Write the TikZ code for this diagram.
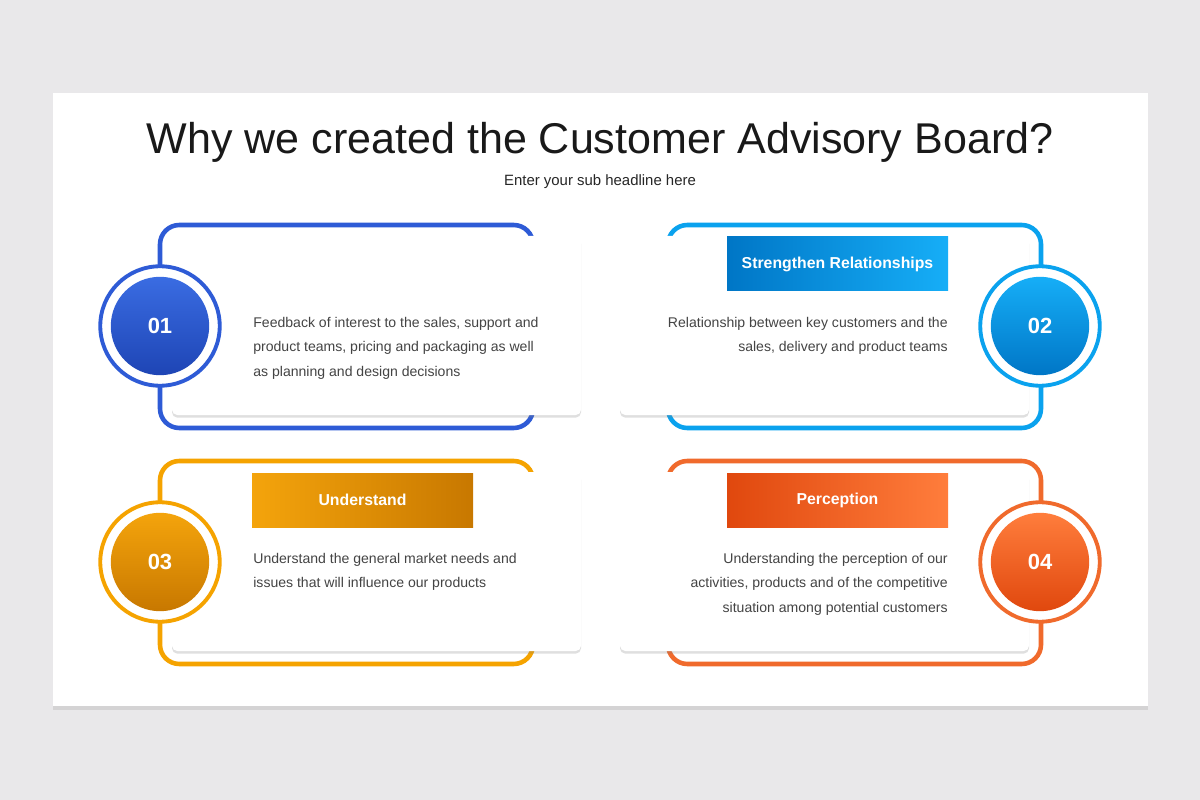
\documentclass[tikz,border=0pt]{standalone}
\usepackage{fontspec}
\setmainfont{Liberation Sans}
\usetikzlibrary{shadows,shadings}
\definecolor{bgc}{HTML}{E9E8EA}
\definecolor{txt}{HTML}{444444}
\definecolor{cA}{HTML}{2E5BD6}\definecolor{cAl}{HTML}{3A6CE2}\definecolor{cAd}{HTML}{1E45B5}
\definecolor{cB}{HTML}{0AA2EE}\definecolor{cBl}{HTML}{16AEF7}\definecolor{cBd}{HTML}{0076C6}
\definecolor{cC}{HTML}{F5A300}\definecolor{cCl}{HTML}{F4A40C}\definecolor{cCd}{HTML}{C87800}
\definecolor{cD}{HTML}{F06A2C}\definecolor{cDl}{HTML}{FF7D3C}\definecolor{cDd}{HTML}{E0480E}
\tikzset{
 outl/.style={draw=#1,line width=2.6pt,rounded corners=11pt},
 card/.style={fill=white,rounded corners=3pt,drop shadow={shadow xshift=0pt,shadow yshift=-1.5pt,opacity=0.25}},
 ring/.style={circle,draw=#1,line width=2.2pt,fill=white,minimum size=68pt,inner sep=0pt},
 body/.style={text=txt,font=\fontsize{8}{13.9}\selectfont,inner sep=0pt},
 num/.style={circle,minimum size=56pt,inner sep=0pt,text=white,font=\fontsize{12.5}{14}\selectfont\bfseries},
 hdr/.style={text=white,font=\fontsize{9}{11}\selectfont\bfseries},
}
\begin{document}
\begin{tikzpicture}[x=0.02cm,y=-0.02cm]
\fill[bgc] (0,0) rectangle (1200,800);
\fill[white,drop shadow={shadow xshift=0pt,shadow yshift=-2pt,opacity=0.2}] (53,93) rectangle (1148,706);
\node[font=\fontsize{24.5}{28}\selectfont,text=black!90] (title) at (600,142) {Why we created the Customer Advisory Board?};
\node[font=\fontsize{8.5}{10}\selectfont,text=black!85] (sub) at (600,182) {Enter your sub headline here};
% card 1
\draw[outl=cA] (160,225) rectangle (533,428);
\fill[card] (172,236) rectangle (581,415);
\node[ring=cA] (r1) at (160,326) {};
\node[num,top color=cAl,bottom color=cAd] (n1) at (160,326) {01};
\node[body,anchor=north west,align=left] (t1) at (253,317) {Feedback of interest to the sales, support and\\product teams, pricing and packaging as well\\as planning and design decisions};
% card 2
\draw[outl=cB] (668,225) rectangle (1041,428);
\fill[card] (620,236) rectangle (1029,415);
\shade[left color=cBd,right color=cBl] (727,237) rectangle (948,291);
\node[hdr] (h2) at (837.5,264) {Strengthen Relationships};
\node[ring=cB] (r2) at (1040,326) {};
\node[num,top color=cBl,bottom color=cBd] (n2) at (1040,326) {02};
\node[body,anchor=north east,align=right] (t2) at (948,317) {Relationship between key customers and the\\sales, delivery and product teams};
% card 3
\draw[outl=cC] (160,461) rectangle (533,664);
\fill[card] (172,472) rectangle (581,651);
\shade[left color=cCl,right color=cCd] (252,473) rectangle (473,527);
\node[hdr] (h3) at (362.5,500) {Understand};
\node[ring=cC] (r3) at (160,562) {};
\node[num,top color=cCl,bottom color=cCd] (n3) at (160,562) {03};
\node[body,anchor=north west,align=left] (t3) at (253,553) {Understand the general market needs and\\issues that will influence our products};
% card 4
\draw[outl=cD] (668,461) rectangle (1041,664);
\fill[card] (620,472) rectangle (1029,651);
\shade[left color=cDd,right color=cDl] (727,473) rectangle (948,527);
\node[hdr] (h4) at (837.5,500) {Perception};
\node[ring=cD] (r4) at (1040,562) {};
\node[num,top color=cDl,bottom color=cDd] (n4) at (1040,562) {04};
\node[body,anchor=north east,align=right] (t4) at (948,553) {Understanding the perception of our\\activities, products and of the competitive\\situation among potential customers};
\end{tikzpicture}
\end{document}
